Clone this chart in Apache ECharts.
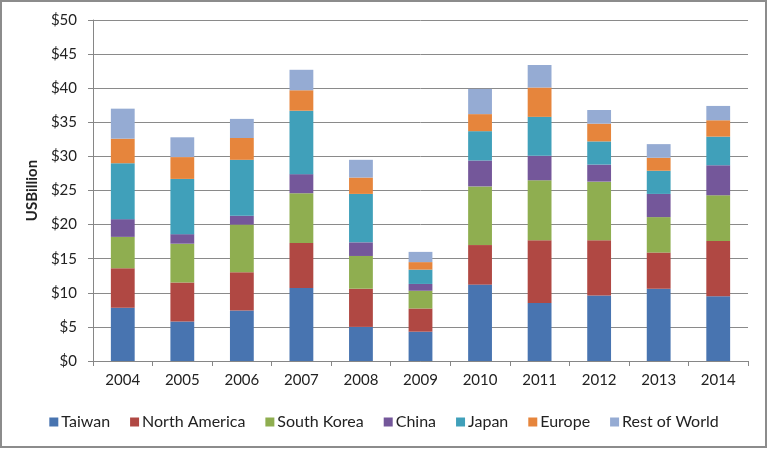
<!DOCTYPE html>
<html>
<head>
<meta charset="utf-8">
<script src="https://cdn.jsdelivr.net/npm/echarts@6/dist/echarts.min.js"></script>
<style>
  html, body { margin: 0; padding: 0; background: #fff; }
  #chart { width: 768px; height: 449px; }
</style>
</head>
<body>
<div id="chart"></div>
<script>
const years = ['2004', '2005', '2006', '2007', '2008', '2009', '2010', '2011', '2012', '2013', '2014']

// values in US$ billion
const taiwan = [7.8, 5.8, 7.4, 10.7, 5.0, 4.3, 11.2, 8.5, 9.6, 10.6, 9.5]
const northAmerica = [5.8, 5.7, 5.6, 6.6, 5.6, 3.4, 5.8, 9.2, 8.1, 5.3, 8.1]
const southKorea = [4.6, 5.7, 7.0, 7.3, 4.8, 2.6, 8.6, 8.8, 8.6, 5.2, 6.7]
const china = [2.6, 1.4, 1.3, 2.8, 2.0, 1.0, 3.8, 3.6, 2.5, 3.4, 4.4]
const japan = [8.2, 8.1, 8.2, 9.3, 7.1, 2.1, 4.3, 5.7, 3.4, 3.4, 4.2]
const europe = [3.6, 3.2, 3.2, 3.0, 2.4, 1.1, 2.5, 4.3, 2.6, 1.9, 2.4]
const restOfWorld = [4.4, 2.9, 2.8, 3.0, 2.6, 1.5, 3.7, 3.3, 2.0, 2.0, 2.1]

const seriesDefs = [
  ['Taiwan', taiwan, '#4874b0'],
  ['North America', northAmerica, '#b04843'],
  ['South Korea', southKorea, '#8fae50'],
  ['China', china, '#74579a'],
  ['Japan', japan, '#40a0ba'],
  ['Europe', europe, '#e6853c'],
  ['Rest of World', restOfWorld, '#95abd3']
]

const font = 'Lato, "Open Sans", sans-serif'

const chart = echarts.init(document.getElementById('chart'))

const series = seriesDefs.map(([name, data, color]) => ({
  name,
  type: 'bar',
  stack: 'total',
  data,
  barWidth: '40%',
  itemStyle: { color },
  animation: false
}))

chart.setOption({
  animation: false,
  textStyle: { fontFamily: font },
  graphic: [{
    type: 'rect',
    shape: { x: 1, y: 1, width: 765, height: 446 },
    style: { fill: 'none', stroke: '#8c8c8c', lineWidth: 2 }
  }],
  grid: { left: 93, right: 20, top: 20, bottom: 88 },
  legend: {
    bottom: 14,
    itemWidth: 9,
    itemHeight: 9,
    itemGap: 20,
    icon: 'rect',
    textStyle: { fontSize: 16, color: '#222', fontFamily: font, padding: [0, 0, 0, -2] }
  },
  xAxis: {
    type: 'category',
    data: years,
    axisLine: { lineStyle: { color: '#868686' } },
    axisTick: { show: true, length: 5, lineStyle: { color: '#868686' } },
    axisLabel: { fontSize: 15, color: '#222', margin: 12 }
  },
  yAxis: {
    type: 'value',
    min: 0,
    max: 50,
    interval: 5,
    name: 'USBillion',
    nameLocation: 'middle',
    nameGap: 46,
    nameTextStyle: { fontSize: 15, fontWeight: 'bold', color: '#222' },
    axisLine: { show: true, lineStyle: { color: '#868686' } },
    axisTick: { show: true, length: 5, lineStyle: { color: '#868686' } },
    axisLabel: { fontSize: 15, color: '#222', margin: 16, formatter: '${value}' },
    splitLine: { lineStyle: { color: '#8a8a8a' } }
  },
  series
})
</script>
</body>
</html>
